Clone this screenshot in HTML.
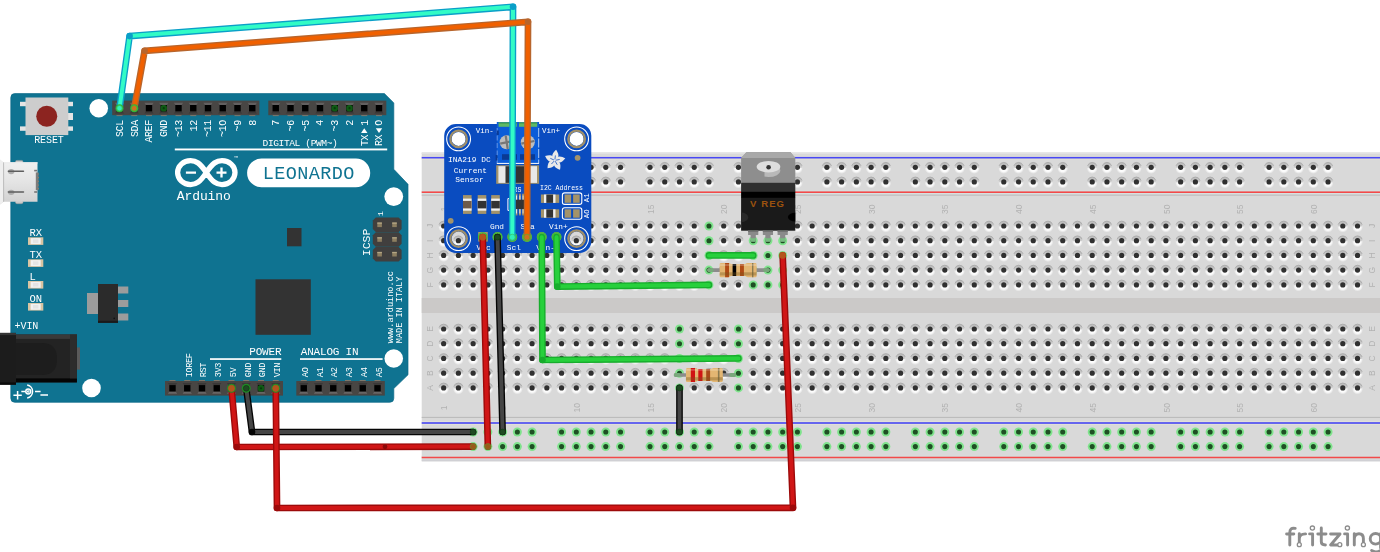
<!DOCTYPE html>
<html><head><meta charset="utf-8"><title>Fritzing breadboard</title>
<style>html,body{margin:0;padding:0;background:#fff;}body{width:1380px;height:552px;overflow:hidden;font-family:"Liberation Sans",sans-serif;}svg{display:block;}text{-webkit-font-smoothing:antialiased;}</style></head>
<body>
<svg width="1380" height="552" viewBox="0 0 1380 552">
<defs>
<radialGradient id="hh" cx="0.5" cy="0.5" r="0.5"><stop offset="0" stop-color="#fff"/><stop offset="0.6" stop-color="#fff" stop-opacity="0.9"/><stop offset="1" stop-color="#fff" stop-opacity="0"/></radialGradient>
<linearGradient id="hg" x1="0" y1="0" x2="0" y2="1"><stop offset="0" stop-color="#b9b9b9"/><stop offset="0.5" stop-color="#cdcdcd"/><stop offset="0.62" stop-color="#e6e6e6" stop-opacity="0"/><stop offset="1" stop-color="#fff" stop-opacity="0"/></linearGradient>
<g id="h"><circle cy="1.1" r="5.5" fill="url(#hh)"/><circle r="4.8" fill="url(#hg)"/><path d="M-4.65 -1.5A4.9 4.9 0 0 1 4.65 -1.5" fill="none" stroke="#a6a6a6" stroke-width="0.8"/><circle r="2.6" fill="#303030"/></g>
<g id="hc"><circle r="4.5" fill="#7fe38c"/><circle r="2.55" fill="#1f4f24"/></g>
<filter id="idf" x="0" y="0" width="1" height="1" filterUnits="objectBoundingBox"><feOffset dx="0" dy="0"/></filter>
<g id="pin"><path d="M-4.6 -5.4H4.6L3.1 -3.3H-3.1Z" fill="#626060"/><path d="M-4.6 5.4H4.6L3.1 3.3H-3.1Z" fill="#3a3837"/><rect x="-3.2" y="-3.2" width="6.4" height="6.4" fill="#000"/></g>
<g id="pinb"><path d="M-4.6 -5.4H4.6L3.1 -3.3H-3.1Z" fill="#3a3837"/><path d="M-4.6 5.4H4.6L3.1 3.3H-3.1Z" fill="#686666"/><rect x="-3.2" y="-3.2" width="6.4" height="6.4" fill="#000"/></g>
</defs>
<rect width="1380" height="552" fill="#fff"/>
<g id="breadboard">
<rect x="421.7" y="152.5" width="960" height="308.8" fill="#d9d9d9"/>
<rect x="421.7" y="152.5" width="960" height="1.5" fill="#e2e2e2"/>
<rect x="421.7" y="155.9" width="960" height="3.6" fill="#ebe8d6" opacity="0.55"/>
<rect x="421.7" y="156.9" width="960" height="1.6" fill="#4848f4"/>
<rect x="421.7" y="190.4" width="960" height="3.6" fill="#d6e8e8" opacity="0.55"/>
<rect x="421.7" y="191.4" width="960" height="1.6" fill="#f24a4a"/>
<rect x="421.7" y="194.6" width="960" height="1.1" fill="#bcbcbc"/>
<rect x="421.7" y="298" width="960" height="15" fill="#cbc9c8"/>
<rect x="421.7" y="416.9" width="960" height="1.1" fill="#bcbcbc"/>
<rect x="421.7" y="421.2" width="960" height="3.6" fill="#ebe8d6" opacity="0.55"/>
<rect x="421.7" y="422.2" width="960" height="1.6" fill="#4848f4"/>
<rect x="421.7" y="455.7" width="960" height="3.6" fill="#d6e8e8" opacity="0.55"/>
<rect x="421.7" y="456.7" width="960" height="1.6" fill="#f24a4a"/>
<rect x="421.7" y="459.6" width="960" height="1.7" fill="#d0d0d4"/>
<use href="#h" x="443.65" y="226"/>
<use href="#h" x="458.39" y="226"/>
<use href="#h" x="473.13" y="226"/>
<use href="#h" x="487.87" y="226"/>
<use href="#h" x="502.61" y="226"/>
<use href="#h" x="517.35" y="226"/>
<use href="#h" x="532.09" y="226"/>
<use href="#h" x="546.83" y="226"/>
<use href="#h" x="561.57" y="226"/>
<use href="#h" x="576.31" y="226"/>
<use href="#h" x="591.05" y="226"/>
<use href="#h" x="605.79" y="226"/>
<use href="#h" x="620.53" y="226"/>
<use href="#h" x="635.27" y="226"/>
<use href="#h" x="650.01" y="226"/>
<use href="#h" x="664.75" y="226"/>
<use href="#h" x="679.49" y="226"/>
<use href="#h" x="694.23" y="226"/>
<use href="#hc" x="708.97" y="226"/>
<use href="#h" x="723.71" y="226"/>
<use href="#h" x="738.45" y="226"/>
<use href="#hc" x="753.19" y="226"/>
<use href="#hc" x="767.93" y="226"/>
<use href="#hc" x="782.67" y="226"/>
<use href="#h" x="797.41" y="226"/>
<use href="#h" x="812.15" y="226"/>
<use href="#h" x="826.89" y="226"/>
<use href="#h" x="841.63" y="226"/>
<use href="#h" x="856.37" y="226"/>
<use href="#h" x="871.11" y="226"/>
<use href="#h" x="885.85" y="226"/>
<use href="#h" x="900.59" y="226"/>
<use href="#h" x="915.33" y="226"/>
<use href="#h" x="930.07" y="226"/>
<use href="#h" x="944.81" y="226"/>
<use href="#h" x="959.55" y="226"/>
<use href="#h" x="974.29" y="226"/>
<use href="#h" x="989.03" y="226"/>
<use href="#h" x="1003.77" y="226"/>
<use href="#h" x="1018.51" y="226"/>
<use href="#h" x="1033.25" y="226"/>
<use href="#h" x="1047.99" y="226"/>
<use href="#h" x="1062.73" y="226"/>
<use href="#h" x="1077.47" y="226"/>
<use href="#h" x="1092.21" y="226"/>
<use href="#h" x="1106.95" y="226"/>
<use href="#h" x="1121.69" y="226"/>
<use href="#h" x="1136.43" y="226"/>
<use href="#h" x="1151.17" y="226"/>
<use href="#h" x="1165.91" y="226"/>
<use href="#h" x="1180.65" y="226"/>
<use href="#h" x="1195.39" y="226"/>
<use href="#h" x="1210.13" y="226"/>
<use href="#h" x="1224.87" y="226"/>
<use href="#h" x="1239.61" y="226"/>
<use href="#h" x="1254.35" y="226"/>
<use href="#h" x="1269.09" y="226"/>
<use href="#h" x="1283.83" y="226"/>
<use href="#h" x="1298.57" y="226"/>
<use href="#h" x="1313.31" y="226"/>
<use href="#h" x="1328.05" y="226"/>
<use href="#h" x="1342.79" y="226"/>
<use href="#h" x="1357.53" y="226"/>
<use href="#h" x="443.65" y="240.7"/>
<use href="#h" x="458.39" y="240.7"/>
<use href="#h" x="473.13" y="240.7"/>
<use href="#h" x="487.87" y="240.7"/>
<use href="#h" x="502.61" y="240.7"/>
<use href="#h" x="517.35" y="240.7"/>
<use href="#h" x="532.09" y="240.7"/>
<use href="#h" x="546.83" y="240.7"/>
<use href="#h" x="561.57" y="240.7"/>
<use href="#h" x="576.31" y="240.7"/>
<use href="#h" x="591.05" y="240.7"/>
<use href="#h" x="605.79" y="240.7"/>
<use href="#h" x="620.53" y="240.7"/>
<use href="#h" x="635.27" y="240.7"/>
<use href="#h" x="650.01" y="240.7"/>
<use href="#h" x="664.75" y="240.7"/>
<use href="#h" x="679.49" y="240.7"/>
<use href="#h" x="694.23" y="240.7"/>
<use href="#hc" x="708.97" y="240.7"/>
<use href="#h" x="723.71" y="240.7"/>
<use href="#h" x="738.45" y="240.7"/>
<use href="#hc" x="753.19" y="240.7"/>
<use href="#hc" x="767.93" y="240.7"/>
<use href="#hc" x="782.67" y="240.7"/>
<use href="#h" x="797.41" y="240.7"/>
<use href="#h" x="812.15" y="240.7"/>
<use href="#h" x="826.89" y="240.7"/>
<use href="#h" x="841.63" y="240.7"/>
<use href="#h" x="856.37" y="240.7"/>
<use href="#h" x="871.11" y="240.7"/>
<use href="#h" x="885.85" y="240.7"/>
<use href="#h" x="900.59" y="240.7"/>
<use href="#h" x="915.33" y="240.7"/>
<use href="#h" x="930.07" y="240.7"/>
<use href="#h" x="944.81" y="240.7"/>
<use href="#h" x="959.55" y="240.7"/>
<use href="#h" x="974.29" y="240.7"/>
<use href="#h" x="989.03" y="240.7"/>
<use href="#h" x="1003.77" y="240.7"/>
<use href="#h" x="1018.51" y="240.7"/>
<use href="#h" x="1033.25" y="240.7"/>
<use href="#h" x="1047.99" y="240.7"/>
<use href="#h" x="1062.73" y="240.7"/>
<use href="#h" x="1077.47" y="240.7"/>
<use href="#h" x="1092.21" y="240.7"/>
<use href="#h" x="1106.95" y="240.7"/>
<use href="#h" x="1121.69" y="240.7"/>
<use href="#h" x="1136.43" y="240.7"/>
<use href="#h" x="1151.17" y="240.7"/>
<use href="#h" x="1165.91" y="240.7"/>
<use href="#h" x="1180.65" y="240.7"/>
<use href="#h" x="1195.39" y="240.7"/>
<use href="#h" x="1210.13" y="240.7"/>
<use href="#h" x="1224.87" y="240.7"/>
<use href="#h" x="1239.61" y="240.7"/>
<use href="#h" x="1254.35" y="240.7"/>
<use href="#h" x="1269.09" y="240.7"/>
<use href="#h" x="1283.83" y="240.7"/>
<use href="#h" x="1298.57" y="240.7"/>
<use href="#h" x="1313.31" y="240.7"/>
<use href="#h" x="1328.05" y="240.7"/>
<use href="#h" x="1342.79" y="240.7"/>
<use href="#h" x="1357.53" y="240.7"/>
<use href="#h" x="443.65" y="255.45"/>
<use href="#h" x="458.39" y="255.45"/>
<use href="#h" x="473.13" y="255.45"/>
<use href="#h" x="487.87" y="255.45"/>
<use href="#h" x="502.61" y="255.45"/>
<use href="#h" x="517.35" y="255.45"/>
<use href="#h" x="532.09" y="255.45"/>
<use href="#h" x="546.83" y="255.45"/>
<use href="#h" x="561.57" y="255.45"/>
<use href="#h" x="576.31" y="255.45"/>
<use href="#h" x="591.05" y="255.45"/>
<use href="#h" x="605.79" y="255.45"/>
<use href="#h" x="620.53" y="255.45"/>
<use href="#h" x="635.27" y="255.45"/>
<use href="#h" x="650.01" y="255.45"/>
<use href="#h" x="664.75" y="255.45"/>
<use href="#h" x="679.49" y="255.45"/>
<use href="#h" x="694.23" y="255.45"/>
<use href="#hc" x="708.97" y="255.45"/>
<use href="#h" x="723.71" y="255.45"/>
<use href="#h" x="738.45" y="255.45"/>
<use href="#hc" x="753.19" y="255.45"/>
<use href="#hc" x="767.93" y="255.45"/>
<use href="#hc" x="782.67" y="255.45"/>
<use href="#h" x="797.41" y="255.45"/>
<use href="#h" x="812.15" y="255.45"/>
<use href="#h" x="826.89" y="255.45"/>
<use href="#h" x="841.63" y="255.45"/>
<use href="#h" x="856.37" y="255.45"/>
<use href="#h" x="871.11" y="255.45"/>
<use href="#h" x="885.85" y="255.45"/>
<use href="#h" x="900.59" y="255.45"/>
<use href="#h" x="915.33" y="255.45"/>
<use href="#h" x="930.07" y="255.45"/>
<use href="#h" x="944.81" y="255.45"/>
<use href="#h" x="959.55" y="255.45"/>
<use href="#h" x="974.29" y="255.45"/>
<use href="#h" x="989.03" y="255.45"/>
<use href="#h" x="1003.77" y="255.45"/>
<use href="#h" x="1018.51" y="255.45"/>
<use href="#h" x="1033.25" y="255.45"/>
<use href="#h" x="1047.99" y="255.45"/>
<use href="#h" x="1062.73" y="255.45"/>
<use href="#h" x="1077.47" y="255.45"/>
<use href="#h" x="1092.21" y="255.45"/>
<use href="#h" x="1106.95" y="255.45"/>
<use href="#h" x="1121.69" y="255.45"/>
<use href="#h" x="1136.43" y="255.45"/>
<use href="#h" x="1151.17" y="255.45"/>
<use href="#h" x="1165.91" y="255.45"/>
<use href="#h" x="1180.65" y="255.45"/>
<use href="#h" x="1195.39" y="255.45"/>
<use href="#h" x="1210.13" y="255.45"/>
<use href="#h" x="1224.87" y="255.45"/>
<use href="#h" x="1239.61" y="255.45"/>
<use href="#h" x="1254.35" y="255.45"/>
<use href="#h" x="1269.09" y="255.45"/>
<use href="#h" x="1283.83" y="255.45"/>
<use href="#h" x="1298.57" y="255.45"/>
<use href="#h" x="1313.31" y="255.45"/>
<use href="#h" x="1328.05" y="255.45"/>
<use href="#h" x="1342.79" y="255.45"/>
<use href="#h" x="1357.53" y="255.45"/>
<use href="#h" x="443.65" y="270.1"/>
<use href="#h" x="458.39" y="270.1"/>
<use href="#h" x="473.13" y="270.1"/>
<use href="#h" x="487.87" y="270.1"/>
<use href="#h" x="502.61" y="270.1"/>
<use href="#h" x="517.35" y="270.1"/>
<use href="#h" x="532.09" y="270.1"/>
<use href="#h" x="546.83" y="270.1"/>
<use href="#h" x="561.57" y="270.1"/>
<use href="#h" x="576.31" y="270.1"/>
<use href="#h" x="591.05" y="270.1"/>
<use href="#h" x="605.79" y="270.1"/>
<use href="#h" x="620.53" y="270.1"/>
<use href="#h" x="635.27" y="270.1"/>
<use href="#h" x="650.01" y="270.1"/>
<use href="#h" x="664.75" y="270.1"/>
<use href="#h" x="679.49" y="270.1"/>
<use href="#h" x="694.23" y="270.1"/>
<use href="#hc" x="708.97" y="270.1"/>
<use href="#h" x="723.71" y="270.1"/>
<use href="#h" x="738.45" y="270.1"/>
<use href="#hc" x="753.19" y="270.1"/>
<use href="#hc" x="767.93" y="270.1"/>
<use href="#hc" x="782.67" y="270.1"/>
<use href="#h" x="797.41" y="270.1"/>
<use href="#h" x="812.15" y="270.1"/>
<use href="#h" x="826.89" y="270.1"/>
<use href="#h" x="841.63" y="270.1"/>
<use href="#h" x="856.37" y="270.1"/>
<use href="#h" x="871.11" y="270.1"/>
<use href="#h" x="885.85" y="270.1"/>
<use href="#h" x="900.59" y="270.1"/>
<use href="#h" x="915.33" y="270.1"/>
<use href="#h" x="930.07" y="270.1"/>
<use href="#h" x="944.81" y="270.1"/>
<use href="#h" x="959.55" y="270.1"/>
<use href="#h" x="974.29" y="270.1"/>
<use href="#h" x="989.03" y="270.1"/>
<use href="#h" x="1003.77" y="270.1"/>
<use href="#h" x="1018.51" y="270.1"/>
<use href="#h" x="1033.25" y="270.1"/>
<use href="#h" x="1047.99" y="270.1"/>
<use href="#h" x="1062.73" y="270.1"/>
<use href="#h" x="1077.47" y="270.1"/>
<use href="#h" x="1092.21" y="270.1"/>
<use href="#h" x="1106.95" y="270.1"/>
<use href="#h" x="1121.69" y="270.1"/>
<use href="#h" x="1136.43" y="270.1"/>
<use href="#h" x="1151.17" y="270.1"/>
<use href="#h" x="1165.91" y="270.1"/>
<use href="#h" x="1180.65" y="270.1"/>
<use href="#h" x="1195.39" y="270.1"/>
<use href="#h" x="1210.13" y="270.1"/>
<use href="#h" x="1224.87" y="270.1"/>
<use href="#h" x="1239.61" y="270.1"/>
<use href="#h" x="1254.35" y="270.1"/>
<use href="#h" x="1269.09" y="270.1"/>
<use href="#h" x="1283.83" y="270.1"/>
<use href="#h" x="1298.57" y="270.1"/>
<use href="#h" x="1313.31" y="270.1"/>
<use href="#h" x="1328.05" y="270.1"/>
<use href="#h" x="1342.79" y="270.1"/>
<use href="#h" x="1357.53" y="270.1"/>
<use href="#h" x="443.65" y="284.9"/>
<use href="#h" x="458.39" y="284.9"/>
<use href="#h" x="473.13" y="284.9"/>
<use href="#h" x="487.87" y="284.9"/>
<use href="#h" x="502.61" y="284.9"/>
<use href="#h" x="517.35" y="284.9"/>
<use href="#h" x="532.09" y="284.9"/>
<use href="#h" x="546.83" y="284.9"/>
<use href="#h" x="561.57" y="284.9"/>
<use href="#h" x="576.31" y="284.9"/>
<use href="#h" x="591.05" y="284.9"/>
<use href="#h" x="605.79" y="284.9"/>
<use href="#h" x="620.53" y="284.9"/>
<use href="#h" x="635.27" y="284.9"/>
<use href="#h" x="650.01" y="284.9"/>
<use href="#h" x="664.75" y="284.9"/>
<use href="#h" x="679.49" y="284.9"/>
<use href="#h" x="694.23" y="284.9"/>
<use href="#hc" x="708.97" y="284.9"/>
<use href="#h" x="723.71" y="284.9"/>
<use href="#h" x="738.45" y="284.9"/>
<use href="#hc" x="753.19" y="284.9"/>
<use href="#hc" x="767.93" y="284.9"/>
<use href="#hc" x="782.67" y="284.9"/>
<use href="#h" x="797.41" y="284.9"/>
<use href="#h" x="812.15" y="284.9"/>
<use href="#h" x="826.89" y="284.9"/>
<use href="#h" x="841.63" y="284.9"/>
<use href="#h" x="856.37" y="284.9"/>
<use href="#h" x="871.11" y="284.9"/>
<use href="#h" x="885.85" y="284.9"/>
<use href="#h" x="900.59" y="284.9"/>
<use href="#h" x="915.33" y="284.9"/>
<use href="#h" x="930.07" y="284.9"/>
<use href="#h" x="944.81" y="284.9"/>
<use href="#h" x="959.55" y="284.9"/>
<use href="#h" x="974.29" y="284.9"/>
<use href="#h" x="989.03" y="284.9"/>
<use href="#h" x="1003.77" y="284.9"/>
<use href="#h" x="1018.51" y="284.9"/>
<use href="#h" x="1033.25" y="284.9"/>
<use href="#h" x="1047.99" y="284.9"/>
<use href="#h" x="1062.73" y="284.9"/>
<use href="#h" x="1077.47" y="284.9"/>
<use href="#h" x="1092.21" y="284.9"/>
<use href="#h" x="1106.95" y="284.9"/>
<use href="#h" x="1121.69" y="284.9"/>
<use href="#h" x="1136.43" y="284.9"/>
<use href="#h" x="1151.17" y="284.9"/>
<use href="#h" x="1165.91" y="284.9"/>
<use href="#h" x="1180.65" y="284.9"/>
<use href="#h" x="1195.39" y="284.9"/>
<use href="#h" x="1210.13" y="284.9"/>
<use href="#h" x="1224.87" y="284.9"/>
<use href="#h" x="1239.61" y="284.9"/>
<use href="#h" x="1254.35" y="284.9"/>
<use href="#h" x="1269.09" y="284.9"/>
<use href="#h" x="1283.83" y="284.9"/>
<use href="#h" x="1298.57" y="284.9"/>
<use href="#h" x="1313.31" y="284.9"/>
<use href="#h" x="1328.05" y="284.9"/>
<use href="#h" x="1342.79" y="284.9"/>
<use href="#h" x="1357.53" y="284.9"/>
<use href="#h" x="443.65" y="329"/>
<use href="#h" x="458.39" y="329"/>
<use href="#h" x="473.13" y="329"/>
<use href="#h" x="487.87" y="329"/>
<use href="#h" x="502.61" y="329"/>
<use href="#h" x="517.35" y="329"/>
<use href="#h" x="532.09" y="329"/>
<use href="#h" x="546.83" y="329"/>
<use href="#h" x="561.57" y="329"/>
<use href="#h" x="576.31" y="329"/>
<use href="#h" x="591.05" y="329"/>
<use href="#h" x="605.79" y="329"/>
<use href="#h" x="620.53" y="329"/>
<use href="#h" x="635.27" y="329"/>
<use href="#h" x="650.01" y="329"/>
<use href="#h" x="664.75" y="329"/>
<use href="#hc" x="679.49" y="329"/>
<use href="#h" x="694.23" y="329"/>
<use href="#h" x="708.97" y="329"/>
<use href="#h" x="723.71" y="329"/>
<use href="#hc" x="738.45" y="329"/>
<use href="#h" x="753.19" y="329"/>
<use href="#h" x="767.93" y="329"/>
<use href="#h" x="782.67" y="329"/>
<use href="#h" x="797.41" y="329"/>
<use href="#h" x="812.15" y="329"/>
<use href="#h" x="826.89" y="329"/>
<use href="#h" x="841.63" y="329"/>
<use href="#h" x="856.37" y="329"/>
<use href="#h" x="871.11" y="329"/>
<use href="#h" x="885.85" y="329"/>
<use href="#h" x="900.59" y="329"/>
<use href="#h" x="915.33" y="329"/>
<use href="#h" x="930.07" y="329"/>
<use href="#h" x="944.81" y="329"/>
<use href="#h" x="959.55" y="329"/>
<use href="#h" x="974.29" y="329"/>
<use href="#h" x="989.03" y="329"/>
<use href="#h" x="1003.77" y="329"/>
<use href="#h" x="1018.51" y="329"/>
<use href="#h" x="1033.25" y="329"/>
<use href="#h" x="1047.99" y="329"/>
<use href="#h" x="1062.73" y="329"/>
<use href="#h" x="1077.47" y="329"/>
<use href="#h" x="1092.21" y="329"/>
<use href="#h" x="1106.95" y="329"/>
<use href="#h" x="1121.69" y="329"/>
<use href="#h" x="1136.43" y="329"/>
<use href="#h" x="1151.17" y="329"/>
<use href="#h" x="1165.91" y="329"/>
<use href="#h" x="1180.65" y="329"/>
<use href="#h" x="1195.39" y="329"/>
<use href="#h" x="1210.13" y="329"/>
<use href="#h" x="1224.87" y="329"/>
<use href="#h" x="1239.61" y="329"/>
<use href="#h" x="1254.35" y="329"/>
<use href="#h" x="1269.09" y="329"/>
<use href="#h" x="1283.83" y="329"/>
<use href="#h" x="1298.57" y="329"/>
<use href="#h" x="1313.31" y="329"/>
<use href="#h" x="1328.05" y="329"/>
<use href="#h" x="1342.79" y="329"/>
<use href="#h" x="1357.53" y="329"/>
<use href="#h" x="443.65" y="343.7"/>
<use href="#h" x="458.39" y="343.7"/>
<use href="#h" x="473.13" y="343.7"/>
<use href="#h" x="487.87" y="343.7"/>
<use href="#h" x="502.61" y="343.7"/>
<use href="#h" x="517.35" y="343.7"/>
<use href="#h" x="532.09" y="343.7"/>
<use href="#h" x="546.83" y="343.7"/>
<use href="#h" x="561.57" y="343.7"/>
<use href="#h" x="576.31" y="343.7"/>
<use href="#h" x="591.05" y="343.7"/>
<use href="#h" x="605.79" y="343.7"/>
<use href="#h" x="620.53" y="343.7"/>
<use href="#h" x="635.27" y="343.7"/>
<use href="#h" x="650.01" y="343.7"/>
<use href="#h" x="664.75" y="343.7"/>
<use href="#hc" x="679.49" y="343.7"/>
<use href="#h" x="694.23" y="343.7"/>
<use href="#h" x="708.97" y="343.7"/>
<use href="#h" x="723.71" y="343.7"/>
<use href="#hc" x="738.45" y="343.7"/>
<use href="#h" x="753.19" y="343.7"/>
<use href="#h" x="767.93" y="343.7"/>
<use href="#h" x="782.67" y="343.7"/>
<use href="#h" x="797.41" y="343.7"/>
<use href="#h" x="812.15" y="343.7"/>
<use href="#h" x="826.89" y="343.7"/>
<use href="#h" x="841.63" y="343.7"/>
<use href="#h" x="856.37" y="343.7"/>
<use href="#h" x="871.11" y="343.7"/>
<use href="#h" x="885.85" y="343.7"/>
<use href="#h" x="900.59" y="343.7"/>
<use href="#h" x="915.33" y="343.7"/>
<use href="#h" x="930.07" y="343.7"/>
<use href="#h" x="944.81" y="343.7"/>
<use href="#h" x="959.55" y="343.7"/>
<use href="#h" x="974.29" y="343.7"/>
<use href="#h" x="989.03" y="343.7"/>
<use href="#h" x="1003.77" y="343.7"/>
<use href="#h" x="1018.51" y="343.7"/>
<use href="#h" x="1033.25" y="343.7"/>
<use href="#h" x="1047.99" y="343.7"/>
<use href="#h" x="1062.73" y="343.7"/>
<use href="#h" x="1077.47" y="343.7"/>
<use href="#h" x="1092.21" y="343.7"/>
<use href="#h" x="1106.95" y="343.7"/>
<use href="#h" x="1121.69" y="343.7"/>
<use href="#h" x="1136.43" y="343.7"/>
<use href="#h" x="1151.17" y="343.7"/>
<use href="#h" x="1165.91" y="343.7"/>
<use href="#h" x="1180.65" y="343.7"/>
<use href="#h" x="1195.39" y="343.7"/>
<use href="#h" x="1210.13" y="343.7"/>
<use href="#h" x="1224.87" y="343.7"/>
<use href="#h" x="1239.61" y="343.7"/>
<use href="#h" x="1254.35" y="343.7"/>
<use href="#h" x="1269.09" y="343.7"/>
<use href="#h" x="1283.83" y="343.7"/>
<use href="#h" x="1298.57" y="343.7"/>
<use href="#h" x="1313.31" y="343.7"/>
<use href="#h" x="1328.05" y="343.7"/>
<use href="#h" x="1342.79" y="343.7"/>
<use href="#h" x="1357.53" y="343.7"/>
<use href="#h" x="443.65" y="358.45"/>
<use href="#h" x="458.39" y="358.45"/>
<use href="#h" x="473.13" y="358.45"/>
<use href="#h" x="487.87" y="358.45"/>
<use href="#h" x="502.61" y="358.45"/>
<use href="#h" x="517.35" y="358.45"/>
<use href="#h" x="532.09" y="358.45"/>
<use href="#h" x="546.83" y="358.45"/>
<use href="#h" x="561.57" y="358.45"/>
<use href="#h" x="576.31" y="358.45"/>
<use href="#h" x="591.05" y="358.45"/>
<use href="#h" x="605.79" y="358.45"/>
<use href="#h" x="620.53" y="358.45"/>
<use href="#h" x="635.27" y="358.45"/>
<use href="#h" x="650.01" y="358.45"/>
<use href="#h" x="664.75" y="358.45"/>
<use href="#hc" x="679.49" y="358.45"/>
<use href="#h" x="694.23" y="358.45"/>
<use href="#h" x="708.97" y="358.45"/>
<use href="#h" x="723.71" y="358.45"/>
<use href="#hc" x="738.45" y="358.45"/>
<use href="#h" x="753.19" y="358.45"/>
<use href="#h" x="767.93" y="358.45"/>
<use href="#h" x="782.67" y="358.45"/>
<use href="#h" x="797.41" y="358.45"/>
<use href="#h" x="812.15" y="358.45"/>
<use href="#h" x="826.89" y="358.45"/>
<use href="#h" x="841.63" y="358.45"/>
<use href="#h" x="856.37" y="358.45"/>
<use href="#h" x="871.11" y="358.45"/>
<use href="#h" x="885.85" y="358.45"/>
<use href="#h" x="900.59" y="358.45"/>
<use href="#h" x="915.33" y="358.45"/>
<use href="#h" x="930.07" y="358.45"/>
<use href="#h" x="944.81" y="358.45"/>
<use href="#h" x="959.55" y="358.45"/>
<use href="#h" x="974.29" y="358.45"/>
<use href="#h" x="989.03" y="358.45"/>
<use href="#h" x="1003.77" y="358.45"/>
<use href="#h" x="1018.51" y="358.45"/>
<use href="#h" x="1033.25" y="358.45"/>
<use href="#h" x="1047.99" y="358.45"/>
<use href="#h" x="1062.73" y="358.45"/>
<use href="#h" x="1077.47" y="358.45"/>
<use href="#h" x="1092.21" y="358.45"/>
<use href="#h" x="1106.95" y="358.45"/>
<use href="#h" x="1121.69" y="358.45"/>
<use href="#h" x="1136.43" y="358.45"/>
<use href="#h" x="1151.17" y="358.45"/>
<use href="#h" x="1165.91" y="358.45"/>
<use href="#h" x="1180.65" y="358.45"/>
<use href="#h" x="1195.39" y="358.45"/>
<use href="#h" x="1210.13" y="358.45"/>
<use href="#h" x="1224.87" y="358.45"/>
<use href="#h" x="1239.61" y="358.45"/>
<use href="#h" x="1254.35" y="358.45"/>
<use href="#h" x="1269.09" y="358.45"/>
<use href="#h" x="1283.83" y="358.45"/>
<use href="#h" x="1298.57" y="358.45"/>
<use href="#h" x="1313.31" y="358.45"/>
<use href="#h" x="1328.05" y="358.45"/>
<use href="#h" x="1342.79" y="358.45"/>
<use href="#h" x="1357.53" y="358.45"/>
<use href="#h" x="443.65" y="373.2"/>
<use href="#h" x="458.39" y="373.2"/>
<use href="#h" x="473.13" y="373.2"/>
<use href="#h" x="487.87" y="373.2"/>
<use href="#h" x="502.61" y="373.2"/>
<use href="#h" x="517.35" y="373.2"/>
<use href="#h" x="532.09" y="373.2"/>
<use href="#h" x="546.83" y="373.2"/>
<use href="#h" x="561.57" y="373.2"/>
<use href="#h" x="576.31" y="373.2"/>
<use href="#h" x="591.05" y="373.2"/>
<use href="#h" x="605.79" y="373.2"/>
<use href="#h" x="620.53" y="373.2"/>
<use href="#h" x="635.27" y="373.2"/>
<use href="#h" x="650.01" y="373.2"/>
<use href="#h" x="664.75" y="373.2"/>
<use href="#hc" x="679.49" y="373.2"/>
<use href="#h" x="694.23" y="373.2"/>
<use href="#h" x="708.97" y="373.2"/>
<use href="#h" x="723.71" y="373.2"/>
<use href="#hc" x="738.45" y="373.2"/>
<use href="#h" x="753.19" y="373.2"/>
<use href="#h" x="767.93" y="373.2"/>
<use href="#h" x="782.67" y="373.2"/>
<use href="#h" x="797.41" y="373.2"/>
<use href="#h" x="812.15" y="373.2"/>
<use href="#h" x="826.89" y="373.2"/>
<use href="#h" x="841.63" y="373.2"/>
<use href="#h" x="856.37" y="373.2"/>
<use href="#h" x="871.11" y="373.2"/>
<use href="#h" x="885.85" y="373.2"/>
<use href="#h" x="900.59" y="373.2"/>
<use href="#h" x="915.33" y="373.2"/>
<use href="#h" x="930.07" y="373.2"/>
<use href="#h" x="944.81" y="373.2"/>
<use href="#h" x="959.55" y="373.2"/>
<use href="#h" x="974.29" y="373.2"/>
<use href="#h" x="989.03" y="373.2"/>
<use href="#h" x="1003.77" y="373.2"/>
<use href="#h" x="1018.51" y="373.2"/>
<use href="#h" x="1033.25" y="373.2"/>
<use href="#h" x="1047.99" y="373.2"/>
<use href="#h" x="1062.73" y="373.2"/>
<use href="#h" x="1077.47" y="373.2"/>
<use href="#h" x="1092.21" y="373.2"/>
<use href="#h" x="1106.95" y="373.2"/>
<use href="#h" x="1121.69" y="373.2"/>
<use href="#h" x="1136.43" y="373.2"/>
<use href="#h" x="1151.17" y="373.2"/>
<use href="#h" x="1165.91" y="373.2"/>
<use href="#h" x="1180.65" y="373.2"/>
<use href="#h" x="1195.39" y="373.2"/>
<use href="#h" x="1210.13" y="373.2"/>
<use href="#h" x="1224.87" y="373.2"/>
<use href="#h" x="1239.61" y="373.2"/>
<use href="#h" x="1254.35" y="373.2"/>
<use href="#h" x="1269.09" y="373.2"/>
<use href="#h" x="1283.83" y="373.2"/>
<use href="#h" x="1298.57" y="373.2"/>
<use href="#h" x="1313.31" y="373.2"/>
<use href="#h" x="1328.05" y="373.2"/>
<use href="#h" x="1342.79" y="373.2"/>
<use href="#h" x="1357.53" y="373.2"/>
<use href="#h" x="443.65" y="387.9"/>
<use href="#h" x="458.39" y="387.9"/>
<use href="#h" x="473.13" y="387.9"/>
<use href="#h" x="487.87" y="387.9"/>
<use href="#h" x="502.61" y="387.9"/>
<use href="#h" x="517.35" y="387.9"/>
<use href="#h" x="532.09" y="387.9"/>
<use href="#h" x="546.83" y="387.9"/>
<use href="#h" x="561.57" y="387.9"/>
<use href="#h" x="576.31" y="387.9"/>
<use href="#h" x="591.05" y="387.9"/>
<use href="#h" x="605.79" y="387.9"/>
<use href="#h" x="620.53" y="387.9"/>
<use href="#h" x="635.27" y="387.9"/>
<use href="#h" x="650.01" y="387.9"/>
<use href="#h" x="664.75" y="387.9"/>
<use href="#hc" x="679.49" y="387.9"/>
<use href="#h" x="694.23" y="387.9"/>
<use href="#h" x="708.97" y="387.9"/>
<use href="#h" x="723.71" y="387.9"/>
<use href="#hc" x="738.45" y="387.9"/>
<use href="#h" x="753.19" y="387.9"/>
<use href="#h" x="767.93" y="387.9"/>
<use href="#h" x="782.67" y="387.9"/>
<use href="#h" x="797.41" y="387.9"/>
<use href="#h" x="812.15" y="387.9"/>
<use href="#h" x="826.89" y="387.9"/>
<use href="#h" x="841.63" y="387.9"/>
<use href="#h" x="856.37" y="387.9"/>
<use href="#h" x="871.11" y="387.9"/>
<use href="#h" x="885.85" y="387.9"/>
<use href="#h" x="900.59" y="387.9"/>
<use href="#h" x="915.33" y="387.9"/>
<use href="#h" x="930.07" y="387.9"/>
<use href="#h" x="944.81" y="387.9"/>
<use href="#h" x="959.55" y="387.9"/>
<use href="#h" x="974.29" y="387.9"/>
<use href="#h" x="989.03" y="387.9"/>
<use href="#h" x="1003.77" y="387.9"/>
<use href="#h" x="1018.51" y="387.9"/>
<use href="#h" x="1033.25" y="387.9"/>
<use href="#h" x="1047.99" y="387.9"/>
<use href="#h" x="1062.73" y="387.9"/>
<use href="#h" x="1077.47" y="387.9"/>
<use href="#h" x="1092.21" y="387.9"/>
<use href="#h" x="1106.95" y="387.9"/>
<use href="#h" x="1121.69" y="387.9"/>
<use href="#h" x="1136.43" y="387.9"/>
<use href="#h" x="1151.17" y="387.9"/>
<use href="#h" x="1165.91" y="387.9"/>
<use href="#h" x="1180.65" y="387.9"/>
<use href="#h" x="1195.39" y="387.9"/>
<use href="#h" x="1210.13" y="387.9"/>
<use href="#h" x="1224.87" y="387.9"/>
<use href="#h" x="1239.61" y="387.9"/>
<use href="#h" x="1254.35" y="387.9"/>
<use href="#h" x="1269.09" y="387.9"/>
<use href="#h" x="1283.83" y="387.9"/>
<use href="#h" x="1298.57" y="387.9"/>
<use href="#h" x="1313.31" y="387.9"/>
<use href="#h" x="1328.05" y="387.9"/>
<use href="#h" x="1342.79" y="387.9"/>
<use href="#h" x="1357.53" y="387.9"/>
<use href="#h" x="473.13" y="167.3"/>
<use href="#h" x="473.13" y="181.9"/>
<use href="#hc" x="473.13" y="432"/>
<use href="#hc" x="473.13" y="446.6"/>
<use href="#h" x="487.87" y="167.3"/>
<use href="#h" x="487.87" y="181.9"/>
<use href="#hc" x="487.87" y="432"/>
<use href="#hc" x="487.87" y="446.6"/>
<use href="#h" x="502.61" y="167.3"/>
<use href="#h" x="502.61" y="181.9"/>
<use href="#hc" x="502.61" y="432"/>
<use href="#hc" x="502.61" y="446.6"/>
<use href="#h" x="517.35" y="167.3"/>
<use href="#h" x="517.35" y="181.9"/>
<use href="#hc" x="517.35" y="432"/>
<use href="#hc" x="517.35" y="446.6"/>
<use href="#h" x="532.09" y="167.3"/>
<use href="#h" x="532.09" y="181.9"/>
<use href="#hc" x="532.09" y="432"/>
<use href="#hc" x="532.09" y="446.6"/>
<use href="#h" x="561.57" y="167.3"/>
<use href="#h" x="561.57" y="181.9"/>
<use href="#hc" x="561.57" y="432"/>
<use href="#hc" x="561.57" y="446.6"/>
<use href="#h" x="576.31" y="167.3"/>
<use href="#h" x="576.31" y="181.9"/>
<use href="#hc" x="576.31" y="432"/>
<use href="#hc" x="576.31" y="446.6"/>
<use href="#h" x="591.05" y="167.3"/>
<use href="#h" x="591.05" y="181.9"/>
<use href="#hc" x="591.05" y="432"/>
<use href="#hc" x="591.05" y="446.6"/>
<use href="#h" x="605.79" y="167.3"/>
<use href="#h" x="605.79" y="181.9"/>
<use href="#hc" x="605.79" y="432"/>
<use href="#hc" x="605.79" y="446.6"/>
<use href="#h" x="620.53" y="167.3"/>
<use href="#h" x="620.53" y="181.9"/>
<use href="#hc" x="620.53" y="432"/>
<use href="#hc" x="620.53" y="446.6"/>
<use href="#h" x="650.01" y="167.3"/>
<use href="#h" x="650.01" y="181.9"/>
<use href="#hc" x="650.01" y="432"/>
<use href="#hc" x="650.01" y="446.6"/>
<use href="#h" x="664.75" y="167.3"/>
<use href="#h" x="664.75" y="181.9"/>
<use href="#hc" x="664.75" y="432"/>
<use href="#hc" x="664.75" y="446.6"/>
<use href="#h" x="679.49" y="167.3"/>
<use href="#h" x="679.49" y="181.9"/>
<use href="#hc" x="679.49" y="432"/>
<use href="#hc" x="679.49" y="446.6"/>
<use href="#h" x="694.23" y="167.3"/>
<use href="#h" x="694.23" y="181.9"/>
<use href="#hc" x="694.23" y="432"/>
<use href="#hc" x="694.23" y="446.6"/>
<use href="#h" x="708.97" y="167.3"/>
<use href="#h" x="708.97" y="181.9"/>
<use href="#hc" x="708.97" y="432"/>
<use href="#hc" x="708.97" y="446.6"/>
<use href="#h" x="738.45" y="167.3"/>
<use href="#h" x="738.45" y="181.9"/>
<use href="#hc" x="738.45" y="432"/>
<use href="#hc" x="738.45" y="446.6"/>
<use href="#h" x="753.19" y="167.3"/>
<use href="#h" x="753.19" y="181.9"/>
<use href="#hc" x="753.19" y="432"/>
<use href="#hc" x="753.19" y="446.6"/>
<use href="#h" x="767.93" y="167.3"/>
<use href="#h" x="767.93" y="181.9"/>
<use href="#hc" x="767.93" y="432"/>
<use href="#hc" x="767.93" y="446.6"/>
<use href="#h" x="782.67" y="167.3"/>
<use href="#h" x="782.67" y="181.9"/>
<use href="#hc" x="782.67" y="432"/>
<use href="#hc" x="782.67" y="446.6"/>
<use href="#h" x="797.41" y="167.3"/>
<use href="#h" x="797.41" y="181.9"/>
<use href="#hc" x="797.41" y="432"/>
<use href="#hc" x="797.41" y="446.6"/>
<use href="#h" x="826.89" y="167.3"/>
<use href="#h" x="826.89" y="181.9"/>
<use href="#hc" x="826.89" y="432"/>
<use href="#hc" x="826.89" y="446.6"/>
<use href="#h" x="841.63" y="167.3"/>
<use href="#h" x="841.63" y="181.9"/>
<use href="#hc" x="841.63" y="432"/>
<use href="#hc" x="841.63" y="446.6"/>
<use href="#h" x="856.37" y="167.3"/>
<use href="#h" x="856.37" y="181.9"/>
<use href="#hc" x="856.37" y="432"/>
<use href="#hc" x="856.37" y="446.6"/>
<use href="#h" x="871.11" y="167.3"/>
<use href="#h" x="871.11" y="181.9"/>
<use href="#hc" x="871.11" y="432"/>
<use href="#hc" x="871.11" y="446.6"/>
<use href="#h" x="885.85" y="167.3"/>
<use href="#h" x="885.85" y="181.9"/>
<use href="#hc" x="885.85" y="432"/>
<use href="#hc" x="885.85" y="446.6"/>
<use href="#h" x="915.33" y="167.3"/>
<use href="#h" x="915.33" y="181.9"/>
<use href="#hc" x="915.33" y="432"/>
<use href="#hc" x="915.33" y="446.6"/>
<use href="#h" x="930.07" y="167.3"/>
<use href="#h" x="930.07" y="181.9"/>
<use href="#hc" x="930.07" y="432"/>
<use href="#hc" x="930.07" y="446.6"/>
<use href="#h" x="944.81" y="167.3"/>
<use href="#h" x="944.81" y="181.9"/>
<use href="#hc" x="944.81" y="432"/>
<use href="#hc" x="944.81" y="446.6"/>
<use href="#h" x="959.55" y="167.3"/>
<use href="#h" x="959.55" y="181.9"/>
<use href="#hc" x="959.55" y="432"/>
<use href="#hc" x="959.55" y="446.6"/>
<use href="#h" x="974.29" y="167.3"/>
<use href="#h" x="974.29" y="181.9"/>
<use href="#hc" x="974.29" y="432"/>
<use href="#hc" x="974.29" y="446.6"/>
<use href="#h" x="1003.77" y="167.3"/>
<use href="#h" x="1003.77" y="181.9"/>
<use href="#hc" x="1003.77" y="432"/>
<use href="#hc" x="1003.77" y="446.6"/>
<use href="#h" x="1018.51" y="167.3"/>
<use href="#h" x="1018.51" y="181.9"/>
<use href="#hc" x="1018.51" y="432"/>
<use href="#hc" x="1018.51" y="446.6"/>
<use href="#h" x="1033.25" y="167.3"/>
<use href="#h" x="1033.25" y="181.9"/>
<use href="#hc" x="1033.25" y="432"/>
<use href="#hc" x="1033.25" y="446.6"/>
<use href="#h" x="1047.99" y="167.3"/>
<use href="#h" x="1047.99" y="181.9"/>
<use href="#hc" x="1047.99" y="432"/>
<use href="#hc" x="1047.99" y="446.6"/>
<use href="#h" x="1062.73" y="167.3"/>
<use href="#h" x="1062.73" y="181.9"/>
<use href="#hc" x="1062.73" y="432"/>
<use href="#hc" x="1062.73" y="446.6"/>
<use href="#h" x="1092.21" y="167.3"/>
<use href="#h" x="1092.21" y="181.9"/>
<use href="#hc" x="1092.21" y="432"/>
<use href="#hc" x="1092.21" y="446.6"/>
<use href="#h" x="1106.95" y="167.3"/>
<use href="#h" x="1106.95" y="181.9"/>
<use href="#hc" x="1106.95" y="432"/>
<use href="#hc" x="1106.95" y="446.6"/>
<use href="#h" x="1121.69" y="167.3"/>
<use href="#h" x="1121.69" y="181.9"/>
<use href="#hc" x="1121.69" y="432"/>
<use href="#hc" x="1121.69" y="446.6"/>
<use href="#h" x="1136.43" y="167.3"/>
<use href="#h" x="1136.43" y="181.9"/>
<use href="#hc" x="1136.43" y="432"/>
<use href="#hc" x="1136.43" y="446.6"/>
<use href="#h" x="1151.17" y="167.3"/>
<use href="#h" x="1151.17" y="181.9"/>
<use href="#hc" x="1151.17" y="432"/>
<use href="#hc" x="1151.17" y="446.6"/>
<use href="#h" x="1180.65" y="167.3"/>
<use href="#h" x="1180.65" y="181.9"/>
<use href="#hc" x="1180.65" y="432"/>
<use href="#hc" x="1180.65" y="446.6"/>
<use href="#h" x="1195.39" y="167.3"/>
<use href="#h" x="1195.39" y="181.9"/>
<use href="#hc" x="1195.39" y="432"/>
<use href="#hc" x="1195.39" y="446.6"/>
<use href="#h" x="1210.13" y="167.3"/>
<use href="#h" x="1210.13" y="181.9"/>
<use href="#hc" x="1210.13" y="432"/>
<use href="#hc" x="1210.13" y="446.6"/>
<use href="#h" x="1224.87" y="167.3"/>
<use href="#h" x="1224.87" y="181.9"/>
<use href="#hc" x="1224.87" y="432"/>
<use href="#hc" x="1224.87" y="446.6"/>
<use href="#h" x="1239.61" y="167.3"/>
<use href="#h" x="1239.61" y="181.9"/>
<use href="#hc" x="1239.61" y="432"/>
<use href="#hc" x="1239.61" y="446.6"/>
<use href="#h" x="1269.09" y="167.3"/>
<use href="#h" x="1269.09" y="181.9"/>
<use href="#hc" x="1269.09" y="432"/>
<use href="#hc" x="1269.09" y="446.6"/>
<use href="#h" x="1283.83" y="167.3"/>
<use href="#h" x="1283.83" y="181.9"/>
<use href="#hc" x="1283.83" y="432"/>
<use href="#hc" x="1283.83" y="446.6"/>
<use href="#h" x="1298.57" y="167.3"/>
<use href="#h" x="1298.57" y="181.9"/>
<use href="#hc" x="1298.57" y="432"/>
<use href="#hc" x="1298.57" y="446.6"/>
<use href="#h" x="1313.31" y="167.3"/>
<use href="#h" x="1313.31" y="181.9"/>
<use href="#hc" x="1313.31" y="432"/>
<use href="#hc" x="1313.31" y="446.6"/>
<use href="#h" x="1328.05" y="167.3"/>
<use href="#h" x="1328.05" y="181.9"/>
<use href="#hc" x="1328.05" y="432"/>
<use href="#hc" x="1328.05" y="446.6"/>
<g font-family="Liberation Sans, sans-serif" font-size="9.9" fill="#b2b2b2" text-anchor="middle" filter="url(#idf)">
<text transform="translate(447.25 209.2) rotate(-90) scale(0.86 1)">1</text>
<text transform="translate(447.25 407.8) rotate(-90) scale(0.86 1)">1</text>
<text transform="translate(506.21 209.2) rotate(-90) scale(0.86 1)">5</text>
<text transform="translate(506.21 407.8) rotate(-90) scale(0.86 1)">5</text>
<text transform="translate(579.91 209.2) rotate(-90) scale(0.86 1)">10</text>
<text transform="translate(579.91 407.8) rotate(-90) scale(0.86 1)">10</text>
<text transform="translate(653.61 209.2) rotate(-90) scale(0.86 1)">15</text>
<text transform="translate(653.61 407.8) rotate(-90) scale(0.86 1)">15</text>
<text transform="translate(727.31 209.2) rotate(-90) scale(0.86 1)">20</text>
<text transform="translate(727.31 407.8) rotate(-90) scale(0.86 1)">20</text>
<text transform="translate(801.01 209.2) rotate(-90) scale(0.86 1)">25</text>
<text transform="translate(801.01 407.8) rotate(-90) scale(0.86 1)">25</text>
<text transform="translate(874.71 209.2) rotate(-90) scale(0.86 1)">30</text>
<text transform="translate(874.71 407.8) rotate(-90) scale(0.86 1)">30</text>
<text transform="translate(948.41 209.2) rotate(-90) scale(0.86 1)">35</text>
<text transform="translate(948.41 407.8) rotate(-90) scale(0.86 1)">35</text>
<text transform="translate(1022.11 209.2) rotate(-90) scale(0.86 1)">40</text>
<text transform="translate(1022.11 407.8) rotate(-90) scale(0.86 1)">40</text>
<text transform="translate(1095.81 209.2) rotate(-90) scale(0.86 1)">45</text>
<text transform="translate(1095.81 407.8) rotate(-90) scale(0.86 1)">45</text>
<text transform="translate(1169.51 209.2) rotate(-90) scale(0.86 1)">50</text>
<text transform="translate(1169.51 407.8) rotate(-90) scale(0.86 1)">50</text>
<text transform="translate(1243.21 209.2) rotate(-90) scale(0.86 1)">55</text>
<text transform="translate(1243.21 407.8) rotate(-90) scale(0.86 1)">55</text>
<text transform="translate(1316.91 209.2) rotate(-90) scale(0.86 1)">60</text>
<text transform="translate(1316.91 407.8) rotate(-90) scale(0.86 1)">60</text>
<text transform="translate(433.1 226) rotate(-90) scale(0.86 1)">J</text>
<text transform="translate(1375 226) rotate(-90) scale(0.86 1)">J</text>
<text transform="translate(433.1 240.7) rotate(-90) scale(0.86 1)">I</text>
<text transform="translate(1375 240.7) rotate(-90) scale(0.86 1)">I</text>
<text transform="translate(433.1 255.45) rotate(-90) scale(0.86 1)">H</text>
<text transform="translate(1375 255.45) rotate(-90) scale(0.86 1)">H</text>
<text transform="translate(433.1 270.1) rotate(-90) scale(0.86 1)">G</text>
<text transform="translate(1375 270.1) rotate(-90) scale(0.86 1)">G</text>
<text transform="translate(433.1 284.9) rotate(-90) scale(0.86 1)">F</text>
<text transform="translate(1375 284.9) rotate(-90) scale(0.86 1)">F</text>
<text transform="translate(433.1 329) rotate(-90) scale(0.86 1)">E</text>
<text transform="translate(1375 329) rotate(-90) scale(0.86 1)">E</text>
<text transform="translate(433.1 343.7) rotate(-90) scale(0.86 1)">D</text>
<text transform="translate(1375 343.7) rotate(-90) scale(0.86 1)">D</text>
<text transform="translate(433.1 358.45) rotate(-90) scale(0.86 1)">C</text>
<text transform="translate(1375 358.45) rotate(-90) scale(0.86 1)">C</text>
<text transform="translate(433.1 373.2) rotate(-90) scale(0.86 1)">B</text>
<text transform="translate(1375 373.2) rotate(-90) scale(0.86 1)">B</text>
<text transform="translate(433.1 387.9) rotate(-90) scale(0.86 1)">A</text>
<text transform="translate(1375 387.9) rotate(-90) scale(0.86 1)">A</text>
</g>
</g>
<g id="arduino">
<path d="M14.8 93.6H384.4L393.8 102.9V169.3L408 184.3V374.8L393.8 388.5V398.3Q393.8 402.3 389.8 402.3H14.8Q10.8 402.3 10.8 398.3V97.6Q10.8 93.6 14.8 93.6Z" fill="#0f7391" stroke="#0b6986" stroke-width="0.7"/>
<circle cx="98.75" cy="108.25" r="9.3" fill="#fff"/>
<circle cx="393.75" cy="196.6" r="9.4" fill="#fff"/>
<circle cx="393.75" cy="358.5" r="9.3" fill="#fff"/>
<circle cx="91.5" cy="388" r="9.3" fill="#fff"/>
<g fill="#e4e4e4">
<rect x="20" y="101.8" width="6" height="4.4"/>
<rect x="20" y="126.4" width="6" height="4.4"/>
<rect x="67" y="101.8" width="6" height="4.4"/>
<rect x="67" y="126.4" width="6" height="4.4"/>
<rect x="67" y="113" width="6" height="7"/>
</g>
<rect x="25.5" y="97.5" width="42.8" height="37.6" fill="#cdcdcd"/>
<circle cx="46.75" cy="116.25" r="10.5" fill="#8c2420"/>
<rect x="112.2" y="100.6" width="147.2" height="14.6" fill="#484644"/>
<rect x="268.3" y="100.6" width="118" height="14.6" fill="#484644"/>
<rect x="165" y="381" width="118" height="14.6" fill="#484644"/>
<rect x="296.3" y="381" width="88.5" height="14.6" fill="#484644"/>
<rect x="116.5" y="115.2" width="6" height="0.9" fill="#8a7868"/>
<use href="#pin" x="119.5" y="108.2"/>
<rect x="131.25" y="115.2" width="6" height="0.9" fill="#8a7868"/>
<use href="#pin" x="134.25" y="108.2"/>
<rect x="146" y="115.2" width="6" height="0.9" fill="#8a7868"/>
<use href="#pin" x="149" y="108.2"/>
<rect x="160.75" y="115.2" width="6" height="0.9" fill="#8a7868"/>
<use href="#pin" x="163.75" y="108.2"/>
<rect x="175.5" y="115.2" width="6" height="0.9" fill="#8a7868"/>
<use href="#pin" x="178.5" y="108.2"/>
<rect x="190.25" y="115.2" width="6" height="0.9" fill="#8a7868"/>
<use href="#pin" x="193.25" y="108.2"/>
<rect x="205" y="115.2" width="6" height="0.9" fill="#8a7868"/>
<use href="#pin" x="208" y="108.2"/>
<rect x="219.75" y="115.2" width="6" height="0.9" fill="#8a7868"/>
<use href="#pin" x="222.75" y="108.2"/>
<rect x="234.5" y="115.2" width="6" height="0.9" fill="#8a7868"/>
<use href="#pin" x="237.5" y="108.2"/>
<rect x="249.25" y="115.2" width="6" height="0.9" fill="#8a7868"/>
<use href="#pin" x="252.25" y="108.2"/>
<rect x="272.75" y="115.2" width="6" height="0.9" fill="#8a7868"/>
<use href="#pin" x="275.75" y="108.2"/>
<rect x="287.5" y="115.2" width="6" height="0.9" fill="#8a7868"/>
<use href="#pin" x="290.5" y="108.2"/>
<rect x="302.25" y="115.2" width="6" height="0.9" fill="#8a7868"/>
<use href="#pin" x="305.25" y="108.2"/>
<rect x="317" y="115.2" width="6" height="0.9" fill="#8a7868"/>
<use href="#pin" x="320" y="108.2"/>
<rect x="331.75" y="115.2" width="6" height="0.9" fill="#8a7868"/>
<use href="#pin" x="334.75" y="108.2"/>
<rect x="346.5" y="115.2" width="6" height="0.9" fill="#8a7868"/>
<use href="#pin" x="349.5" y="108.2"/>
<rect x="361.25" y="115.2" width="6" height="0.9" fill="#8a7868"/>
<use href="#pin" x="364.25" y="108.2"/>
<rect x="376" y="115.2" width="6" height="0.9" fill="#8a7868"/>
<use href="#pin" x="379" y="108.2"/>
<rect x="169.5" y="380.1" width="6" height="0.9" fill="#8a7868"/>
<use href="#pinb" x="172.5" y="388.3"/>
<rect x="184.25" y="380.1" width="6" height="0.9" fill="#8a7868"/>
<use href="#pinb" x="187.25" y="388.3"/>
<rect x="199" y="380.1" width="6" height="0.9" fill="#8a7868"/>
<use href="#pinb" x="202" y="388.3"/>
<rect x="213.75" y="380.1" width="6" height="0.9" fill="#8a7868"/>
<use href="#pinb" x="216.75" y="388.3"/>
<rect x="228.5" y="380.1" width="6" height="0.9" fill="#8a7868"/>
<use href="#pinb" x="231.5" y="388.3"/>
<rect x="243.25" y="380.1" width="6" height="0.9" fill="#8a7868"/>
<use href="#pinb" x="246.25" y="388.3"/>
<rect x="258" y="380.1" width="6" height="0.9" fill="#8a7868"/>
<use href="#pinb" x="261" y="388.3"/>
<rect x="272.75" y="380.1" width="6" height="0.9" fill="#8a7868"/>
<use href="#pinb" x="275.75" y="388.3"/>
<rect x="300.75" y="380.1" width="6" height="0.9" fill="#8a7868"/>
<use href="#pinb" x="303.75" y="388.3"/>
<rect x="315.5" y="380.1" width="6" height="0.9" fill="#8a7868"/>
<use href="#pinb" x="318.5" y="388.3"/>
<rect x="330.25" y="380.1" width="6" height="0.9" fill="#8a7868"/>
<use href="#pinb" x="333.25" y="388.3"/>
<rect x="345" y="380.1" width="6" height="0.9" fill="#8a7868"/>
<use href="#pinb" x="348" y="388.3"/>
<rect x="359.75" y="380.1" width="6" height="0.9" fill="#8a7868"/>
<use href="#pinb" x="362.75" y="388.3"/>
<rect x="374.5" y="380.1" width="6" height="0.9" fill="#8a7868"/>
<use href="#pinb" x="377.5" y="388.3"/>
<rect x="160.55" y="105" width="6.4" height="6.4" rx="2.6" fill="#0f5a14"/><circle cx="163.75" cy="108.2" r="1.1" fill="#063a0a"/>
<rect x="331.55" y="105" width="6.4" height="6.4" rx="2.6" fill="#0f5a14"/><circle cx="334.75" cy="108.2" r="1.1" fill="#063a0a"/>
<rect x="346.3" y="105" width="6.4" height="6.4" rx="2.6" fill="#0f5a14"/><circle cx="349.5" cy="108.2" r="1.1" fill="#063a0a"/>
<rect x="257.8" y="385.1" width="6.4" height="6.4" rx="2.6" fill="#0f5a14"/><circle cx="261" cy="388.3" r="1.1" fill="#063a0a"/>
<g font-family="Liberation Mono, monospace" fill="#fff" filter="url(#idf)">
<text transform="translate(122.8 120.2) rotate(-90)" font-size="10" letter-spacing="-0.4" text-anchor="end">SCL</text>
<text transform="translate(137.55 120.2) rotate(-90)" font-size="10" letter-spacing="-0.4" text-anchor="end">SDA</text>
<text transform="translate(152.3 120.2) rotate(-90)" font-size="10" letter-spacing="-0.4" text-anchor="end">AREF</text>
<text transform="translate(167.05 120.2) rotate(-90)" font-size="10" letter-spacing="-0.4" text-anchor="end">GND</text>
<text transform="translate(181.8 120.2) rotate(-90)" font-size="10" letter-spacing="-0.4" text-anchor="end">~13</text>
<text transform="translate(196.55 120.2) rotate(-90)" font-size="10" letter-spacing="-0.4" text-anchor="end">12</text>
<text transform="translate(211.3 120.2) rotate(-90)" font-size="10" letter-spacing="-0.4" text-anchor="end">~11</text>
<text transform="translate(226.05 120.2) rotate(-90)" font-size="10" letter-spacing="-0.4" text-anchor="end">~1O</text>
<text transform="translate(240.8 120.2) rotate(-90)" font-size="10" letter-spacing="-0.4" text-anchor="end">~9</text>
<text transform="translate(255.55 120.2) rotate(-90)" font-size="10" letter-spacing="-0.4" text-anchor="end">8</text>
<text transform="translate(279.05 120.2) rotate(-90)" font-size="10" letter-spacing="-0.4" text-anchor="end">7</text>
<text transform="translate(293.8 120.2) rotate(-90)" font-size="10" letter-spacing="-0.4" text-anchor="end">~6</text>
<text transform="translate(308.55 120.2) rotate(-90)" font-size="10" letter-spacing="-0.4" text-anchor="end">~5</text>
<text transform="translate(323.3 120.2) rotate(-90)" font-size="10" letter-spacing="-0.4" text-anchor="end">4</text>
<text transform="translate(338.05 120.2) rotate(-90)" font-size="10" letter-spacing="-0.4" text-anchor="end">~3</text>
<text transform="translate(352.8 120.2) rotate(-90)" font-size="10" letter-spacing="-0.4" text-anchor="end">2</text>
<text transform="translate(367.55 120.2) rotate(-90)" font-size="10" letter-spacing="-0.4" text-anchor="end">1</text>
<text transform="translate(382.3 120.2) rotate(-90)" font-size="10" letter-spacing="-0.4" text-anchor="end">O</text>
<text transform="translate(367.55 134.8) rotate(-90)" font-size="10" letter-spacing="-0.4" text-anchor="end">TX</text>
<text transform="translate(382.3 134.8) rotate(-90)" font-size="10" letter-spacing="-0.4" text-anchor="end">RX</text>
<path d="M364.25 132.9l-3.2 0l3.2 -4.6l3.2 4.6z"/>
<path d="M379 128.3l-3.2 0l3.2 4.6l3.2 -4.6z"/>
<text x="262.6" y="145.5" font-size="9.6" letter-spacing="-0.42">DIGITAL (PWM~)</text>
<rect x="174.8" y="148.5" width="212.4" height="1.9"/>
<text transform="translate(191.65 377.3) rotate(-90)" font-size="8.6" letter-spacing="-0.4" text-anchor="start">IOREF</text>
<text transform="translate(206.4 377.3) rotate(-90)" font-size="8.6" letter-spacing="-0.4" text-anchor="start">RST</text>
<text transform="translate(221.15 377.3) rotate(-90)" font-size="8.6" letter-spacing="-0.4" text-anchor="start">3V3</text>
<text transform="translate(235.9 377.3) rotate(-90)" font-size="8.6" letter-spacing="-0.4" text-anchor="start">5V</text>
<text transform="translate(250.65 377.3) rotate(-90)" font-size="8.6" letter-spacing="-0.4" text-anchor="start">GND</text>
<text transform="translate(265.4 377.3) rotate(-90)" font-size="8.6" letter-spacing="-0.4" text-anchor="start">GND</text>
<text transform="translate(280.15 377.3) rotate(-90)" font-size="8.6" letter-spacing="-0.4" text-anchor="start">VIN</text>
<text transform="translate(307.75 377.3) rotate(-90)" font-size="8.6" letter-spacing="-0.2" text-anchor="start">AO</text>
<text transform="translate(322.5 377.3) rotate(-90)" font-size="8.6" letter-spacing="-0.2" text-anchor="start">A1</text>
<text transform="translate(337.25 377.3) rotate(-90)" font-size="8.6" letter-spacing="-0.2" text-anchor="start">A2</text>
<text transform="translate(352 377.3) rotate(-90)" font-size="8.6" letter-spacing="-0.2" text-anchor="start">A3</text>
<text transform="translate(366.75 377.3) rotate(-90)" font-size="8.6" letter-spacing="-0.2" text-anchor="start">A4</text>
<text transform="translate(381.5 377.3) rotate(-90)" font-size="8.6" letter-spacing="-0.2" text-anchor="start">A5</text>
<text x="249.3" y="354.8" font-size="11" letter-spacing="-0.2">POWER</text>
<rect x="210" y="358.2" width="71.3" height="1.7"/>
<text x="300.8" y="354.8" font-size="11" letter-spacing="-0.2">ANALOG IN</text>
<rect x="300" y="358.2" width="82.6" height="1.7"/>
<text x="34.2" y="143.3" font-size="10" letter-spacing="-0.1">RESET</text>
<text x="176.8" y="200.3" font-size="13" letter-spacing="-0.1">Arduino</text>
<text x="29.4" y="235.6" font-size="10.5" letter-spacing="0">RX</text>
<text x="29.4" y="257.6" font-size="10.5" letter-spacing="0">TX</text>
<text x="29.4" y="279.6" font-size="10.5" letter-spacing="0">L</text>
<text x="29.4" y="301.8" font-size="10.5" letter-spacing="0">ON</text>
<text x="14.6" y="329.4" font-size="10" letter-spacing="-0.1">+VIN</text>
<text transform="translate(370.2 256.2) rotate(-90)" font-size="11.5" letter-spacing="0" text-anchor="start">ICSP</text>
<text transform="translate(383 216) rotate(-90)" font-size="8" letter-spacing="0" text-anchor="start">1</text>
<text transform="translate(392.6 343.2) rotate(-90)" font-size="8.6" letter-spacing="0" text-anchor="start">www.arduino.cc</text>
<text transform="translate(402.2 343.2) rotate(-90)" font-size="8.6" letter-spacing="-0.03" text-anchor="start">MADE IN ITALY</text>
<text x="234" y="158.4" font-size="3.4">TM</text>
</g>
<g fill="none" stroke="#fff">
<path d="M206.3 172.6C200 163 196 160.6 190.6 160.6C183.4 160.6 177.6 165.9 177.6 172.6C177.6 179.3 183.4 184.6 190.6 184.6C196 184.6 200 182.2 206.3 172.6C212.6 163 216.6 160.6 222 160.6C229.2 160.6 235 165.9 235 172.6C235 179.3 229.2 184.6 222 184.6C216.6 184.6 212.6 182.2 206.3 172.6Z" stroke-width="5.3"/>
<path d="M185.9 172.6H196M216.5 172.6H226.5M221.5 167.6V177.6" stroke-width="2.3"/>
</g>
<rect x="247.1" y="158.6" width="123.1" height="28.7" rx="14.35" fill="#fff"/>
<text x="308.7" y="178.9" font-family="Liberation Mono, monospace" font-size="18.5" letter-spacing="0.4" text-anchor="middle" fill="#0f7391">LEONARDO</text>
<rect x="287" y="228" width="14.5" height="18.3" fill="#333"/>
<rect x="255.5" y="279.3" width="55.3" height="55.5" fill="#333"/>
<rect x="87" y="293" width="11.5" height="21" fill="#9c9c9c"/>
<rect x="117.5" y="286.5" width="10.8" height="7" fill="#9c9c9c"/>
<rect x="117.5" y="300" width="10.8" height="7" fill="#9c9c9c"/>
<rect x="117.5" y="313.5" width="10.8" height="7" fill="#9c9c9c"/>
<rect x="98" y="284" width="20" height="38.8" fill="#2b2b2b"/>
<rect x="98" y="320.8" width="20" height="2" fill="#1a1a1a"/>
<circle cx="114.2" cy="318.4" r="0.8" fill="#111"/>
<rect x="28" y="237.3" width="15.3" height="7.6" fill="#d9c4a2"/>
<rect x="30.6" y="238.1" width="10.1" height="6" fill="#f1f1f1"/>
<rect x="33" y="239.3" width="5.4" height="3.6" fill="#e4e4e4"/>
<rect x="28" y="259.3" width="15.3" height="7.6" fill="#d9c4a2"/>
<rect x="30.6" y="260.1" width="10.1" height="6" fill="#f1f1f1"/>
<rect x="33" y="261.3" width="5.4" height="3.6" fill="#e4e4e4"/>
<rect x="28" y="281" width="15.3" height="7.6" fill="#d9c4a2"/>
<rect x="30.6" y="281.8" width="10.1" height="6" fill="#f1f1f1"/>
<rect x="33" y="283" width="5.4" height="3.6" fill="#e4e4e4"/>
<rect x="28" y="303" width="15.3" height="7.6" fill="#d9c4a2"/>
<rect x="30.6" y="303.8" width="10.1" height="6" fill="#f1f1f1"/>
<rect x="33" y="305" width="5.4" height="3.6" fill="#e4e4e4"/>
<path d="M375.8 217.5H398.6L401.6 220.5V229.1L398.6 232.1H375.8L372.8 229.1V220.5Z" fill="#413f3e"/>
<rect x="377.3" y="222.5" width="4.6" height="4.6" fill="#8d7e60"/>
<rect x="377.3" y="222.5" width="4.6" height="1.3" fill="#b3a584"/>
<rect x="392.2" y="222.5" width="4.6" height="4.6" fill="#8d7e60"/>
<rect x="392.2" y="222.5" width="4.6" height="1.3" fill="#b3a584"/>
<path d="M375.8 232.2H398.6L401.6 235.2V243.8L398.6 246.8H375.8L372.8 243.8V235.2Z" fill="#413f3e"/>
<rect x="377.3" y="237.2" width="4.6" height="4.6" fill="#8d7e60"/>
<rect x="377.3" y="237.2" width="4.6" height="1.3" fill="#b3a584"/>
<rect x="392.2" y="237.2" width="4.6" height="4.6" fill="#8d7e60"/>
<rect x="392.2" y="237.2" width="4.6" height="1.3" fill="#b3a584"/>
<path d="M375.8 246.9H398.6L401.6 249.9V258.5L398.6 261.5H375.8L372.8 258.5V249.9Z" fill="#413f3e"/>
<rect x="377.3" y="251.9" width="4.6" height="4.6" fill="#8d7e60"/>
<rect x="377.3" y="251.9" width="4.6" height="1.3" fill="#b3a584"/>
<rect x="392.2" y="251.9" width="4.6" height="4.6" fill="#8d7e60"/>
<rect x="392.2" y="251.9" width="4.6" height="1.3" fill="#b3a584"/>
<rect x="15.5" y="160.4" width="7.5" height="3" rx="1.4" fill="#c9c9c9" stroke="#9a9a9a" stroke-width="0.5"/><rect x="15.5" y="200.7" width="7.5" height="3" rx="1.4" fill="#c9c9c9" stroke="#9a9a9a" stroke-width="0.5"/>
<linearGradient id="usbg" x1="0" y1="0" x2="0" y2="1"><stop offset="0" stop-color="#f2f2f2"/><stop offset="0.5" stop-color="#e4e4e4"/><stop offset="1" stop-color="#d0d0d0"/></linearGradient>
<path d="M0 159.6L3.6 162.3H37.5V201.8H3.6L0 204.5Z" fill="url(#usbg)"/>
<path d="M0 159.6L3.6 162.3V201.8L0 204.5Z" fill="#efefef"/>
<path d="M3.6 162.3V201.8" stroke="#a8a8a8" stroke-width="0.7"/>
<rect x="3.9" y="162.3" width="33.6" height="1.2" fill="#ececec"/>
<rect x="35.8" y="172.4" width="2.7" height="17.8" fill="#7c7c7c"/><rect x="34.2" y="169.8" width="3" height="1.6" fill="#777"/><rect x="34.2" y="191.2" width="3" height="1.6" fill="#777"/>
<path d="M37.4 174H39M37.4 177.7H39M37.4 181.4H39M37.4 185.1H39M37.4 188.6H39" stroke="#8a7a6a" stroke-width="1.2"/>
<ellipse cx="11.2" cy="171.6" rx="3.2" ry="2.6" fill="#adadad"/>
<rect x="7.6" y="170.45" width="16.6" height="1.5" rx="0.7" fill="#5e5e5e"/>
<ellipse cx="11.2" cy="192.3" rx="3.2" ry="2.6" fill="#adadad"/>
<rect x="7.6" y="191.15" width="16.6" height="1.5" rx="0.7" fill="#5e5e5e"/>
<rect x="76.5" y="347.4" width="3.5" height="22.2" fill="#5a5a5a"/>
<rect x="15.5" y="334.5" width="61.4" height="47.9" fill="#232323"/>
<rect x="15.5" y="334.5" width="61.4" height="4.4" fill="#393939"/>
<rect x="15.5" y="378.4" width="61.4" height="4" fill="#050505"/>
<rect x="70" y="334.5" width="6.9" height="43.9" fill="#2c2c2c"/>
<path d="M15.5 343H42Q57 343 57 359Q57 375 42 375H15.5Z" fill="#1d1d1d"/>
<rect x="0" y="332.9" width="16" height="51.8" fill="#1c1c1c"/>
<rect x="0" y="332.9" width="16" height="2.2" fill="#353535"/>
<rect x="0" y="382.4" width="16" height="2.3" fill="#0a0a0a"/>
<g stroke="#fff" fill="none" stroke-width="1.5"><path d="M13.4 395.3H21.8M17.6 391.1V399.5M21.3 391.5H25.4M35 391.5H40.6M40.4 395H48"/><circle cx="28.2" cy="391.5" r="2.4"/><circle cx="28.2" cy="391.5" r="0.5"/><path d="M27.2 385.1A6.5 6.5 0 0 1 27.2 397.9"/></g>
</g>
<g id="bbparts">
<path d="M708.97 270.1H767.93" stroke="#8c8c8c" stroke-width="3.6" stroke-linecap="round"/>
<path d="M708.97 270.1h3M767.93 270.1h-3" stroke="#79a87c" stroke-width="3.8" stroke-linecap="round"/>
<clipPath id="rc708"><path d="M719.4 264.5Q719.4 263 720.9 263H728.4Q729.9 263 730.9 264.1H745.3Q746.3 263 747.8 263H755.3Q756.8 263 756.8 264.5V275.7Q756.8 277.2 755.3 277.2H747.8Q746.3 277.2 745.3 276.1H730.9Q729.9 277.2 728.4 277.2H720.9Q719.4 277.2 719.4 275.7Z"/></clipPath>
<g clip-path="url(#rc708)">
<rect x="719.4" y="263" width="37.4" height="15" fill="#e3b672"/>
<rect x="725.1" y="263" width="3.9" height="15" fill="#b04a14"/>
<rect x="732.6" y="263" width="3.6" height="15" fill="#000"/>
<rect x="740" y="263" width="3.9" height="15" fill="#b04a14"/>
<rect x="752" y="263" width="1.4" height="15" fill="#8a7a50"/>
<rect x="719.4" y="272.3" width="37.4" height="3.2" fill="#7a5a20" opacity="0.38"/>
<rect x="719.4" y="264.2" width="37.4" height="1.6" fill="#fff" opacity="0.25"/>
</g>
<path d="M675.6 375H734.2" stroke="#8c8c8c" stroke-width="3.6" stroke-linecap="round"/>
<path d="M675.6 375h3M734.2 375h-3" stroke="#79a87c" stroke-width="3.8" stroke-linecap="round"/>
<clipPath id="rc675"><path d="M685.8 369.4Q685.8 367.9 687.3 367.9H694.8Q696.3 367.9 697.3 369H711.4Q712.4 367.9 713.9 367.9H721.4Q722.9 367.9 722.9 369.4V380.6Q722.9 382.1 721.4 382.1H713.9Q712.4 382.1 711.4 381H697.3Q696.3 382.1 694.8 382.1H687.3Q685.8 382.1 685.8 380.6Z"/></clipPath>
<g clip-path="url(#rc675)">
<rect x="685.8" y="367.9" width="37.1" height="15" fill="#e3b672"/>
<rect x="690.8" y="367.9" width="4.2" height="15" fill="#d01414"/>
<rect x="698.3" y="367.9" width="4.2" height="15" fill="#d01414"/>
<rect x="706.2" y="367.9" width="3.9" height="15" fill="#a8481a"/>
<rect x="717.9" y="367.9" width="1.6" height="15" fill="#8a7a50"/>
<rect x="685.8" y="377.2" width="37.1" height="3.2" fill="#7a5a20" opacity="0.38"/>
<rect x="685.8" y="369.1" width="37.1" height="1.6" fill="#fff" opacity="0.25"/>
</g>
<path d="M708.97 255.45L753.19 255.45" fill="none" stroke="#17ad2c" stroke-width="6.7" stroke-linecap="round" stroke-linejoin="round"/>
<path d="M708.97 255.45L753.19 255.45" fill="none" stroke="#27d03c" stroke-width="4" stroke-linecap="round" stroke-linejoin="round"/>
<path d="M679.49 387.9L679.49 432" fill="none" stroke="#050505" stroke-width="6.7" stroke-linecap="round" stroke-linejoin="round"/>
<path d="M679.49 387.9L679.49 432" fill="none" stroke="#454545" stroke-width="4" stroke-linecap="round" stroke-linejoin="round"/>
</g>
<g id="sensor">
<path d="M455.9 124.1H579.6A11.7 11.7 0 0 1 591.3 135.8V241.3A11.7 11.7 0 0 1 579.6 253H455.9A11.7 11.7 0 0 1 444.2 241.3V135.8A11.7 11.7 0 0 1 455.9 124.1ZM451.6 138.9a7 7 0 1 0 14 0a7 7 0 1 0 -14 0ZM569.6 138.9a7 7 0 1 0 14 0a7 7 0 1 0 -14 0ZM451.6 238.6a7 7 0 1 0 14 0a7 7 0 1 0 -14 0ZM569.6 238.6a7 7 0 1 0 14 0a7 7 0 1 0 -14 0Z" fill="#0a4cc0" fill-rule="evenodd"/>
<circle cx="458.6" cy="138.9" r="8.3" fill="none" stroke="#a08f68" stroke-width="2.3"/>
<circle cx="458.6" cy="138.9" r="11.9" fill="none" stroke="#fff" stroke-width="1.1"/>
<circle cx="576.6" cy="138.9" r="8.3" fill="none" stroke="#a08f68" stroke-width="2.3"/>
<circle cx="576.6" cy="138.9" r="11.9" fill="none" stroke="#fff" stroke-width="1.1"/>
<circle cx="458.6" cy="238.6" r="8.3" fill="none" stroke="#a08f68" stroke-width="2.3"/>
<circle cx="458.6" cy="238.6" r="11.9" fill="none" stroke="#fff" stroke-width="1.1"/>
<circle cx="576.6" cy="238.6" r="8.3" fill="none" stroke="#a08f68" stroke-width="2.3"/>
<circle cx="576.6" cy="238.6" r="11.9" fill="none" stroke="#fff" stroke-width="1.1"/>
<circle cx="577.6" cy="157.8" r="2.9" fill="#a3936a"/>
<circle cx="450.7" cy="220.8" r="2.9" fill="#a3936a"/>
<rect x="496.8" y="122" width="42.3" height="41.4" fill="#0b5cd8"/>
<path d="M497.2 128V163" fill="none" stroke="#e8eefc" stroke-width="0.8" stroke-dasharray="5 2.5" opacity="0.5"/><path d="M538.7 128V163" fill="none" stroke="#fff" stroke-width="0.8" stroke-dasharray="9 1.5" opacity="0.85"/>
<rect x="496.8" y="162.9" width="42.3" height="1" fill="#fff"/>
<rect x="498.6" y="122.5" width="18.2" height="4.3" fill="#5fb965"/><rect x="519" y="122.5" width="18.2" height="4.3" fill="#5fb965"/>
<rect x="498.6" y="122.5" width="18.2" height="1.2" fill="#3f9f52"/><rect x="519" y="122.5" width="18.2" height="1.2" fill="#3f9f52"/>
<circle cx="506.7" cy="142.3" r="7" fill="#bdbdbd"/>
<path d="M505.7 135.6L507.7 149M500.2 143.6L513.2 141" stroke="#777" stroke-width="2.2" fill="none"/>
<circle cx="527.8" cy="142.3" r="7" fill="#bdbdbd"/>
<path d="M526.8 135.6L528.8 149M521.3 143.6L534.3 141" stroke="#777" stroke-width="2.2" fill="none"/>
<rect x="502" y="154.2" width="15" height="5.6" fill="#0a3a94"/><rect x="520" y="154.2" width="15" height="5.6" fill="#0a3a94"/>
<rect x="496.8" y="130.5" width="2" height="4.5" fill="#0a3a94"/><rect x="495.6" y="155" width="1.8" height="5.5" fill="#0a3a94"/>
<rect x="496.2" y="165.3" width="42.9" height="18.5" fill="#a3936a"/>
<rect x="498.4" y="166.2" width="38.6" height="16.7" fill="#e8e8e8"/>
<rect x="505.5" y="166.2" width="24.4" height="16.7" fill="#333"/>
<rect x="463" y="195.1" width="8.6" height="18.8" fill="#a3936a"/>
<rect x="463" y="198.6" width="8.6" height="12.1" fill="#f0f0f0"/>
<rect x="463" y="200.9" width="8.6" height="7.5" fill="#6e5a4a"/>
<rect x="477.7" y="195.1" width="8.6" height="18.8" fill="#a3936a"/>
<rect x="477.7" y="198.6" width="8.6" height="12.1" fill="#f0f0f0"/>
<rect x="477.7" y="200.9" width="8.6" height="7.5" fill="#333"/>
<rect x="491.2" y="195.1" width="8.6" height="18.8" fill="#a3936a"/>
<rect x="491.2" y="198.6" width="8.6" height="12.1" fill="#f0f0f0"/>
<rect x="491.2" y="200.9" width="8.6" height="7.5" fill="#333"/>
<rect x="540.9" y="194.5" width="18.3" height="8.4" fill="#a3936a"/>
<rect x="544" y="194.5" width="11.5" height="8.4" fill="#f0f0f0"/>
<rect x="546.3" y="194.5" width="6.8" height="8.4" fill="#333"/>
<rect x="540.9" y="209.3" width="18.3" height="8.4" fill="#a3936a"/>
<rect x="544" y="209.3" width="11.5" height="8.4" fill="#f0f0f0"/>
<rect x="546.3" y="209.3" width="6.8" height="8.4" fill="#333"/>
<rect x="562.4" y="192.9" width="19.4" height="11.5" rx="2.2" fill="none" stroke="#fff" stroke-width="1.1"/>
<rect x="564.6" y="194.5" width="6.5" height="8.3" fill="#a3936a"/><rect x="573.1" y="194.5" width="6.6" height="8.3" fill="#a3936a"/>
<rect x="562.4" y="207.7" width="19.4" height="11.6" rx="2.2" fill="none" stroke="#fff" stroke-width="1.1"/>
<rect x="564.6" y="209.3" width="6.5" height="8.4" fill="#a3936a"/><rect x="573.1" y="209.3" width="6.6" height="8.4" fill="#a3936a"/>
<rect x="515.55" y="193.7" width="1.9" height="21.7" fill="#a3936a"/>
<rect x="516.05" y="195.5" width="0.9" height="18" fill="#f0f0f0"/>
<rect x="518.95" y="193.7" width="1.9" height="21.7" fill="#a3936a"/>
<rect x="519.45" y="195.5" width="0.9" height="18" fill="#f0f0f0"/>
<rect x="522.15" y="193.7" width="1.9" height="21.7" fill="#a3936a"/>
<rect x="522.65" y="195.5" width="0.9" height="18" fill="#f0f0f0"/>
<rect x="515.6" y="199.7" width="8.6" height="9.4" fill="#333"/>
<path d="M510 198.6H507.9V210.4H510" fill="none" stroke="#fff" stroke-width="1"/>
<rect x="478.2" y="232" width="9.6" height="9.6" fill="#a3936a"/>
<circle cx="497.5" cy="237" r="5" fill="#8f9a52"/>
<circle cx="512.25" cy="237" r="5" fill="#8f9a52"/>
<circle cx="527" cy="237" r="5" fill="#8f9a52"/>
<circle cx="541.75" cy="237" r="5" fill="#8f9a52"/>
<circle cx="556.5" cy="237" r="5" fill="#8f9a52"/>
<circle cx="482.75" cy="237" r="4.2" fill="none" stroke="#38c038" stroke-width="1.3"/>
<circle cx="482.75" cy="237" r="2.2" fill="#1c3a1c"/>
<circle cx="497.5" cy="237" r="4.2" fill="none" stroke="#38c038" stroke-width="1.3"/>
<circle cx="497.5" cy="237" r="2.2" fill="#1c3a1c"/>
<circle cx="512.25" cy="237" r="4.2" fill="none" stroke="#38c038" stroke-width="1.3"/>
<circle cx="512.25" cy="237" r="2.2" fill="#1c3a1c"/>
<circle cx="527" cy="237" r="4.2" fill="none" stroke="#38c038" stroke-width="1.3"/>
<circle cx="527" cy="237" r="2.2" fill="#1c3a1c"/>
<circle cx="541.75" cy="237" r="4.2" fill="none" stroke="#38c038" stroke-width="1.3"/>
<circle cx="541.75" cy="237" r="2.2" fill="#1c3a1c"/>
<circle cx="556.5" cy="237" r="4.2" fill="none" stroke="#38c038" stroke-width="1.3"/>
<circle cx="556.5" cy="237" r="2.2" fill="#1c3a1c"/>
<g font-family="Liberation Mono, monospace" fill="#fff" font-size="7.9" filter="url(#idf)">
<text x="448" y="162.1">INA219 DC</text>
<text x="453.8" y="172.5">Current</text>
<text x="455.3" y="182">Sensor</text>
<text x="475.8" y="133.4" font-size="7.5">Vin-</text>
<text x="542" y="133.4" font-size="7.5">Vin+</text>
<text x="540" y="189.6" font-size="6.5">I2C Address</text>
<text x="513.6" y="192" font-size="6.5">RS</text>
<text x="490" y="228.7" font-size="7.8">Gnd</text>
<text x="520.6" y="228.7" font-size="7.8">Sda</text>
<text x="549" y="228.7" font-size="7.8">Vin+</text>
<text x="476.6" y="249.9" font-size="7.8">Vcc</text>
<text x="506.8" y="249.9" font-size="7.8">Scl</text>
<text x="536.2" y="249.9" font-size="7.8">Vin-</text>
<text transform="translate(589.3 202.2) rotate(-90)" font-size="7.4">A1</text>
<text transform="translate(589.3 218.2) rotate(-90)" font-size="7.4">AO</text>
</g>
<path d="M0 -0.4C-5.4 -3.4 -2.6 -7.6 0 -10.7C2.6 -7.6 5.4 -3.4 0 -0.4Z" fill="#e9e9e9" transform="translate(554.8 160.4) rotate(7)"/>
<path d="M0 -0.4C-5.4 -3.4 -2.6 -7.6 0 -10.7C2.6 -7.6 5.4 -3.4 0 -0.4Z" fill="#e9e9e9" transform="translate(554.8 160.4) rotate(79)"/>
<path d="M0 -0.4C-5.4 -3.4 -2.6 -7.6 0 -10.7C2.6 -7.6 5.4 -3.4 0 -0.4Z" fill="#e9e9e9" transform="translate(554.8 160.4) rotate(151)"/>
<path d="M0 -0.4C-5.4 -3.4 -2.6 -7.6 0 -10.7C2.6 -7.6 5.4 -3.4 0 -0.4Z" fill="#e9e9e9" transform="translate(554.8 160.4) rotate(223)"/>
<path d="M0 -0.4C-5.4 -3.4 -2.6 -7.6 0 -10.7C2.6 -7.6 5.4 -3.4 0 -0.4Z" fill="#e9e9e9" transform="translate(554.8 160.4) rotate(295)"/>
<circle cx="554.8" cy="160.4" r="2.4" fill="#e9e9e9"/>
<path d="M554.96 159.11L555.36 155.83" stroke="#0a4cc0" stroke-width="0.75" stroke-linecap="round"/>
<path d="M556.08 160.15L559.32 159.52" stroke="#0a4cc0" stroke-width="0.75" stroke-linecap="round"/>
<path d="M555.43 161.54L557.03 164.42" stroke="#0a4cc0" stroke-width="0.75" stroke-linecap="round"/>
<path d="M553.91 161.35L551.66 163.76" stroke="#0a4cc0" stroke-width="0.75" stroke-linecap="round"/>
<path d="M553.62 159.85L550.63 158.46" stroke="#0a4cc0" stroke-width="0.75" stroke-linecap="round"/>
</g>
<g id="vreg">
<path d="M746.4 152.2H790.6L795.3 158V183H741.1V158Z" fill="#8e8e8e"/>
<path d="M746.4 152.2H790.6L795.3 158H741.1Z" fill="#a9a9a9"/>
<clipPath id="vh"><rect x="764.5" y="160" width="20" height="20"/></clipPath>
<ellipse cx="768.5" cy="170.6" rx="11.8" ry="6.4" fill="#b9b9b9" clip-path="url(#vh)"/>
<ellipse cx="768.5" cy="166.7" rx="11.8" ry="5.8" fill="#dedede"/>
<circle cx="768.6" cy="167.2" r="2.3" fill="#333"/>
<rect x="741.1" y="182.8" width="54.2" height="9.2" fill="#2f2f2f"/>
<rect x="741.1" y="191.8" width="54.2" height="6.2" fill="#000"/>
<rect x="741.1" y="197.8" width="54.2" height="32.9" fill="#1a1a1a"/>
<path d="M741.1 212.6A7.2 4.8 0 0 1 741.1 222.2Z" fill="#2a2a2a"/>
<path d="M795.3 212.8A7.4 4.3 0 0 0 795.3 221.4Z" fill="#000"/>
<text x="767.6" y="207.3" font-family="Liberation Sans, sans-serif" font-weight="bold" font-size="8.2" letter-spacing="0.9" text-anchor="middle" fill="#9c520e" textLength="35" lengthAdjust="spacingAndGlyphs">V REG</text>
<path d="M748.09 230.7h10.2v4.4h-2.5v6.6h-5.2v-6.6h-2.5z" fill="#8a8a8a"/>
<rect x="748.09" y="230.7" width="10.2" height="1.2" fill="#6f6f6f"/>
<rect x="750.59" y="238.2" width="5.2" height="3.5" fill="#6fcf7c" opacity="0.7"/>
<path d="M762.83 230.7h10.2v4.4h-2.5v6.6h-5.2v-6.6h-2.5z" fill="#8a8a8a"/>
<rect x="762.83" y="230.7" width="10.2" height="1.2" fill="#6f6f6f"/>
<rect x="765.33" y="238.2" width="5.2" height="3.5" fill="#6fcf7c" opacity="0.7"/>
<path d="M777.57 230.7h10.2v4.4h-2.5v6.6h-5.2v-6.6h-2.5z" fill="#8a8a8a"/>
<rect x="777.57" y="230.7" width="10.2" height="1.2" fill="#6f6f6f"/>
<rect x="780.07" y="238.2" width="5.2" height="3.5" fill="#6fcf7c" opacity="0.7"/>
</g>
<g id="wires">
<path d="M231.5 388.3L236.75 447L473.13 446.6" fill="none" stroke="#9c0a0a" stroke-width="6.7" stroke-linecap="round" stroke-linejoin="round"/>
<path d="M231.5 388.3L236.75 447L473.13 446.6" fill="none" stroke="#d01616" stroke-width="4" stroke-linecap="round" stroke-linejoin="round"/>
<circle cx="236.75" cy="447" r="3.3" fill="#9c0a0a"/>
<path d="M246.25 388.3L252 432L473.13 432" fill="none" stroke="#050505" stroke-width="6.7" stroke-linecap="round" stroke-linejoin="round"/>
<path d="M246.25 388.3L252 432L473.13 432" fill="none" stroke="#454545" stroke-width="4" stroke-linecap="round" stroke-linejoin="round"/>
<circle cx="252" cy="432" r="3.3" fill="#050505"/>
<path d="M482.75 237.2L487.87 446.6" fill="none" stroke="#9c0a0a" stroke-width="6.7" stroke-linecap="round" stroke-linejoin="round"/>
<path d="M482.75 237.2L487.87 446.6" fill="none" stroke="#d01616" stroke-width="4" stroke-linecap="round" stroke-linejoin="round"/>
<path d="M497.5 237.2L502.61 432" fill="none" stroke="#050505" stroke-width="6.7" stroke-linecap="round" stroke-linejoin="round"/>
<path d="M497.5 237.2L502.61 432" fill="none" stroke="#454545" stroke-width="4" stroke-linecap="round" stroke-linejoin="round"/>
<path d="M541.75 237.2L542.5 360L738.45 358.45" fill="none" stroke="#17ad2c" stroke-width="6.7" stroke-linecap="round" stroke-linejoin="round"/>
<path d="M541.75 237.2L542.5 360L738.45 358.45" fill="none" stroke="#27d03c" stroke-width="4" stroke-linecap="round" stroke-linejoin="round"/>
<circle cx="542.5" cy="360" r="3.3" fill="#17ad2c"/>
<path d="M556.5 237.2L557.3 286.6L708.97 284.9" fill="none" stroke="#17ad2c" stroke-width="6.7" stroke-linecap="round" stroke-linejoin="round"/>
<path d="M556.5 237.2L557.3 286.6L708.97 284.9" fill="none" stroke="#27d03c" stroke-width="4" stroke-linecap="round" stroke-linejoin="round"/>
<circle cx="557.3" cy="286.6" r="3.3" fill="#17ad2c"/>
<path d="M275.75 388.3L277 508L793 507.8L782.67 255.45" fill="none" stroke="#9c0a0a" stroke-width="6.7" stroke-linecap="round" stroke-linejoin="round"/>
<path d="M275.75 388.3L277 508L793 507.8L782.67 255.45" fill="none" stroke="#d01616" stroke-width="4" stroke-linecap="round" stroke-linejoin="round"/>
<circle cx="277" cy="508" r="3.3" fill="#9c0a0a"/>
<circle cx="793" cy="507.8" r="3.3" fill="#9c0a0a"/>
<path d="M119.5 108.2L129.6 36.1L513 6.8L512.25 237.2" fill="none" stroke="#0a9fc8" stroke-width="6.7" stroke-linecap="round" stroke-linejoin="round"/>
<path d="M119.5 108.2L129.6 36.1L513 6.8L512.25 237.2" fill="none" stroke="#32fbc6" stroke-width="4" stroke-linecap="round" stroke-linejoin="round"/>
<circle cx="129.6" cy="36.1" r="3.3" fill="#0a9fc8"/>
<circle cx="513" cy="6.8" r="3.3" fill="#0a9fc8"/>
<path d="M134.25 108.2L144.6 50.8L528 21.8L527 237.2" fill="none" stroke="#b8652c" stroke-width="6.7" stroke-linecap="round" stroke-linejoin="round"/>
<path d="M134.25 108.2L144.6 50.8L528 21.8L527 237.2" fill="none" stroke="#f06000" stroke-width="4" stroke-linecap="round" stroke-linejoin="round"/>
<circle cx="144.6" cy="50.8" r="3.3" fill="#b8652c"/>
<circle cx="528" cy="21.8" r="3.3" fill="#b8652c"/>
<circle cx="385" cy="446.8" r="2.4" fill="#8c0a0a"/>
<circle cx="231.5" cy="388.3" r="4.5" fill="#1f8c24"/>
<circle cx="275.75" cy="388.3" r="4.5" fill="#1f8c24"/>
<circle cx="246.25" cy="388.3" r="4.5" fill="#1f8c24"/>
<circle cx="119.5" cy="108.2" r="4.0" fill="#2fb43a"/>
<circle cx="134.25" cy="108.2" r="4.0" fill="#2fb43a"/>
<circle cx="231.5" cy="388.3" r="3.1" fill="#b4541c" stroke="#b4541c" stroke-width="0.9" stroke-opacity="0.8"/>
<circle cx="275.75" cy="388.3" r="3.1" fill="#b4541c" stroke="#b4541c" stroke-width="0.9" stroke-opacity="0.8"/>
<circle cx="782.67" cy="255.45" r="3.1" fill="#b4541c" stroke="#b4541c" stroke-width="0.9" stroke-opacity="0.8"/>
<circle cx="482.75" cy="237.2" r="3.1" fill="#b4541c" stroke="#b4541c" stroke-width="0.9" stroke-opacity="0.8"/>
<circle cx="473.13" cy="446.6" r="3" fill="#9a5a1a" stroke="#6a8a2a" stroke-width="0.9" stroke-opacity="0.8"/>
<circle cx="487.87" cy="446.6" r="3" fill="#9a5a1a" stroke="#6a8a2a" stroke-width="0.9" stroke-opacity="0.8"/>
<circle cx="246.25" cy="388.3" r="2.9" fill="#1f4a22" stroke="#123a16" stroke-width="0.9" stroke-opacity="0.8"/>
<circle cx="497.5" cy="237.2" r="2.9" fill="#1f4a22" stroke="#123a16" stroke-width="0.9" stroke-opacity="0.8"/>
<circle cx="473.13" cy="432" r="2.9" fill="#1f4a22" stroke="#123a16" stroke-width="0.9" stroke-opacity="0.8"/>
<circle cx="502.61" cy="432" r="2.9" fill="#1f4a22" stroke="#123a16" stroke-width="0.9" stroke-opacity="0.8"/>
<circle cx="679.49" cy="432" r="2.9" fill="#1f4a22" stroke="#123a16" stroke-width="0.9" stroke-opacity="0.8"/>
<circle cx="679.49" cy="387.9" r="2.9" fill="#1f4a22" stroke="#123a16" stroke-width="0.9" stroke-opacity="0.8"/>
<circle cx="119.5" cy="108.2" r="2.7" fill="#30f0b8" stroke="#38c060" stroke-width="0.9" stroke-opacity="0.8"/>
<circle cx="512.25" cy="237.2" r="3" fill="#30f0b8" stroke="#38c060" stroke-width="0.9" stroke-opacity="0.8"/>
<circle cx="134.25" cy="108.2" r="2.7" fill="#d07020" stroke="#58b030" stroke-width="0.9" stroke-opacity="0.8"/>
<circle cx="527" cy="237.2" r="3" fill="#d07020" stroke="#58b030" stroke-width="0.9" stroke-opacity="0.8"/>
</g>
<g id="logo" fill="none" stroke="#8c8c8c" stroke-width="2.9" stroke-linecap="round" stroke-linejoin="round">
<path d="M1295.2 528.4Q1289.8 527.2 1289.8 532.6V545"/><path d="M1286.6 534H1293.8"/>
<path d="M1299.3 533.6V542.4M1299.3 538.6Q1299.6 533.8 1305.6 533.9"/>
<path d="M1309.6 533.9H1312.6V545"/>
<path d="M1321.3 528V541.8Q1321.3 545 1325.4 545M1317.8 534H1326"/>
<path d="M1330.6 534H1340L1330.6 545H1337.4"/>
<path d="M1344.6 533.9H1347.6V545"/>
<path d="M1354.3 533.6V545M1354.3 538.8Q1354.6 533.8 1359 533.8Q1363.4 533.8 1363.4 538.8V542.4"/>
<ellipse cx="1375.6" cy="538.8" rx="5.4" ry="5.3"/><path d="M1380.6 533.6V548M1371.6 550.6Q1376 553.2 1380.6 550.4"/>
<g stroke-width="1.3" fill="#fff"><circle cx="1299.3" cy="544.7" r="2"/><circle cx="1312.4" cy="528.1" r="2.1"/><circle cx="1339.8" cy="544.7" r="2"/><circle cx="1347.4" cy="528.1" r="2.1"/><circle cx="1363.4" cy="544.7" r="2"/></g>
</g>
</svg>
</body></html>
